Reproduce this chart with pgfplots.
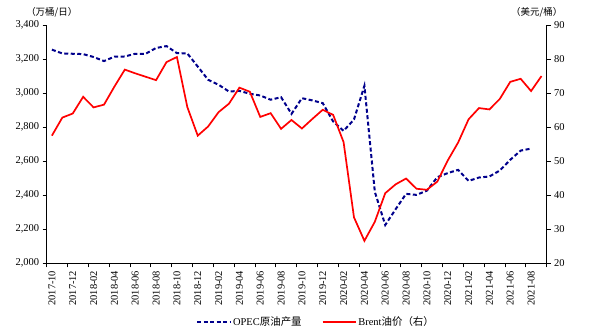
\documentclass[border=0pt]{standalone}
\usepackage{pgfplots}
\pgfplotsset{compat=1.18}
\usepackage{fontspec}
\setmainfont{Liberation Serif}
\newfontfamily\cjk{Noto Sans CJK SC}
\definecolor{opecblue}{RGB}{0,0,140}
\definecolor{brentred}{RGB}{255,0,0}

\pgfplotstableread{
idx opec
0 3255
1 3233
2 3231
3 3229
4 3212
5 3188
6 3214
7 3215
8 3231
9 3231
10 3265
11 3276
12 3235
13 3233
14 3156
15 3078
16 3049
17 3009
18 3013
19 2996
20 2986
21 2961
22 2976
23 2878
24 2970
25 2957
26 2941
27 2833
28 2778
29 2845
30 3043
31 2420
32 2225
33 2318
34 2408
35 2402
36 2427
37 2506
38 2530
39 2549
40 2484
41 2504
42 2510
43 2545
44 2608
45 2662
46 2674
}\opectable

\pgfplotstableread{
idx brent
0 57.5
1 62.8
2 64.0
3 68.9
4 65.8
5 66.6
6 71.9
7 76.9
8 75.8
9 74.8
10 73.8
11 79.1
12 80.6
13 65.9
14 57.5
15 60.2
16 64.4
17 66.9
18 71.6
19 70.4
20 63.0
21 64.1
22 59.5
23 62.1
24 59.6
25 62.4
26 65.1
27 63.6
28 55.6
29 33.5
30 26.6
31 32.2
32 40.6
33 43.2
34 44.9
35 41.9
36 41.6
37 44.0
38 50.2
39 55.5
40 62.3
41 65.6
42 65.2
43 68.3
44 73.3
45 74.2
46 70.6
47 75.0
}\brenttable

\begin{document}
\begin{tikzpicture}
\useasboundingbox (-46.7bp,-72.7bp) rectangle (542.3bp,263.3bp);
\pgfplotsset{
  every axis/.append style={
    scale only axis, width=500bp, height=238.3bp,
    xmin=-0.5, xmax=47.5,
    tick align=outside, major tick length=4bp,
    axis line style={line width=0.8bp, black},
    tick style={line width=0.8bp, black},
    tick label style={font=\fontsize{10.5}{12}\selectfont},
    /pgf/number format/assume math mode=true,
  }
}
\begin{axis}[
  axis x line*=bottom, axis y line*=left,
  ymin=2000, ymax=3400,
  ytick={2000,2200,...,3400},
  yticklabel style={/pgf/number format/.cd, 1000 sep={,}},
  xtick={0,2,...,46},
  xticklabels={2017-10,2017-12,2018-02,2018-04,2018-06,2018-08,2018-10,2018-12,2019-02,2019-04,2019-06,2019-08,2019-10,2019-12,2020-02,2020-04,2020-06,2020-08,2020-10,2020-12,2021-02,2021-04,2021-06,2021-08},
  x tick style={draw=none},
  x tick label style={rotate=90, anchor=east},
  legend columns=2,
  legend style={at={(0.5386,-0.245)}, anchor=center, draw=none, fill=none,
    font=\fontsize{10.5}{12}\selectfont,
    /tikz/every even column/.append style={column sep=18bp}},
  legend image code/.code={\draw[#1] (0bp,0bp) -- (33bp,0bp);},
]
\addplot[opecblue, line width=2bp, dash pattern=on 4bp off 2.5bp] table[x=idx, y=opec] {\opectable};
\addlegendentry{OPEC{\cjk 原油产量}}
\addlegendimage{brentred, line width=1.7bp}
\addlegendentry{Brent{\cjk 油价（右）}}
\end{axis}
\begin{axis}[
  axis x line*=bottom, axis y line*=right,
  ymin=20, ymax=90,
  ytick={20,30,...,90},
  xtick={-0.5,1.5,...,47.5},
  xticklabels={},
]
\addplot[brentred, line width=1.7bp] table[x=idx, y=brent] {\brenttable};
\end{axis}
\node[font=\cjk\fontsize{9.5}{11}\selectfont] at (5.1bp,251bp) {（万桶/日）};
\node[font=\cjk\fontsize{9.5}{11}\selectfont] at (490bp,251bp) {（美元/桶）};
\end{tikzpicture}
\end{document}
